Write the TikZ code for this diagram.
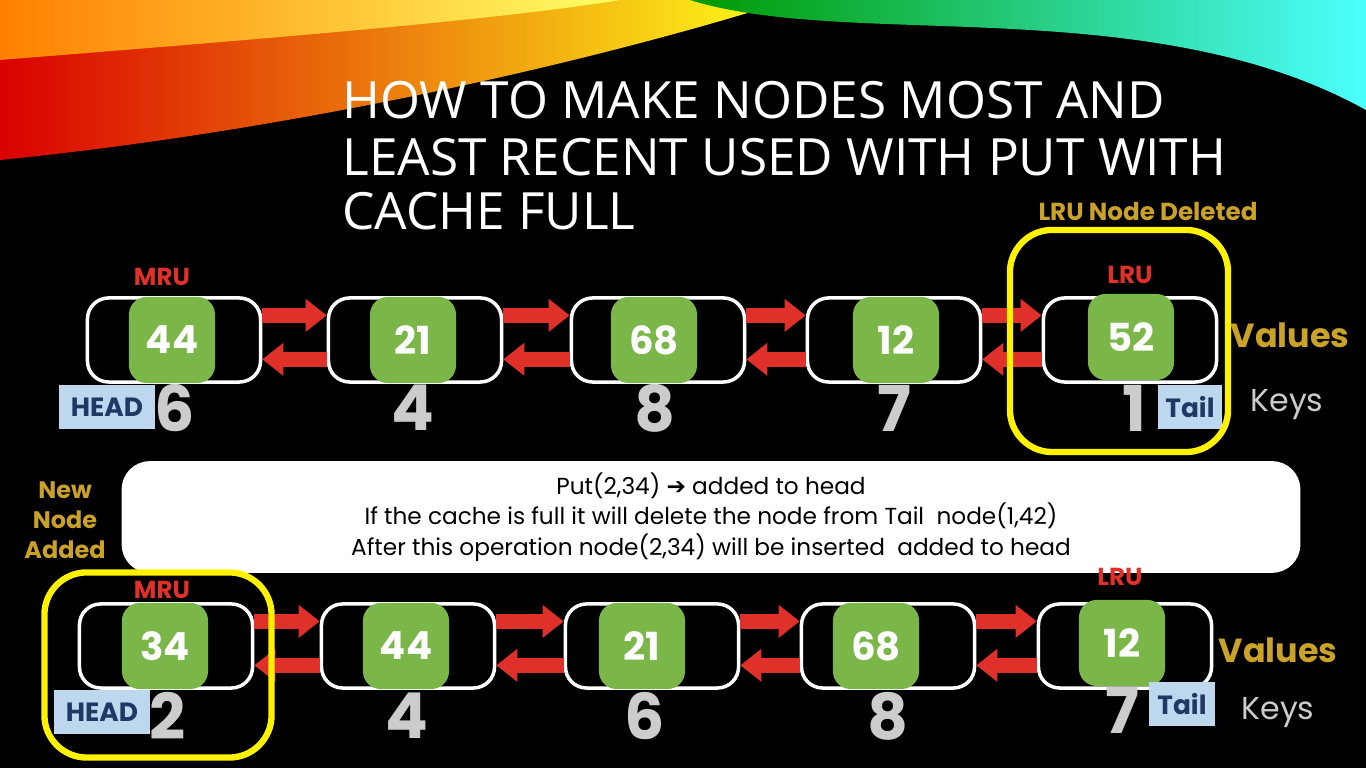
\documentclass[tikz,border=0pt]{standalone}
\usepackage{fontspec}
\setmainfont{Poppins}
\newfontfamily\titlefont{Open Sans}
\newfontfamily\dejavu{DejaVu Sans}
\usetikzlibrary{arrows.meta,shapes.misc}
\definecolor{gold}{HTML}{C9A227}
\definecolor{mred}{HTML}{E0302A}
\definecolor{gbox}{HTML}{7AB648}
\definecolor{lblue}{HTML}{BDD7EE}
\definecolor{navy}{HTML}{1F3864}
\tikzset{
  cell/.style={draw=white,line width=1pt,rounded corners=6pt,minimum width=1.73cm,minimum height=0.84cm},
  val/.style={fill=gbox,rounded corners=5pt,minimum width=0.86cm,minimum height=0.86cm,text=white,font=\bfseries\fontsize{11}{13}\selectfont},
  keyd/.style={text=white!80!black,font=\bfseries\fontsize{18}{20}\selectfont},
  tag/.style={fill=lblue,text=navy,font=\bfseries\fontsize{7.5}{9}\selectfont,minimum height=0.44cm,inner sep=2pt},
  lab/.style={font=\bfseries\fontsize{7}{8}\selectfont},
  fw/.style={mred,line width=4.3pt,-{Triangle[width=9pt,length=6pt]}},
  sel/.style={draw=yellow,line width=1.8pt,rounded corners=12pt},
}
\begin{document}
\begin{tikzpicture}[x=0.01cm,y=-0.01cm]
\fill[black] (0,0) rectangle (1366,768);
\useasboundingbox (0,0) rectangle (1366,768);
% swooshes
\shade[left color=red!85!black,right color=yellow!90!white] (0,160) .. controls (300,130) and (600,60) .. (790,0) -- (0,0) -- cycle;
\shade[left color=orange,right color=yellow!60!white] (0,60) .. controls (250,40) and (500,20) .. (620,0) -- (0,0) -- cycle;
\shade[left color=green!60!black,right color=cyan!70!white] (690,0) .. controls (850,50) and (1150,-10) .. (1366,110) -- (1366,0) -- cycle;
% title
\node[anchor=west,text=white,font=\titlefont\fontsize{14.6}{15}\selectfont,align=left] (t1) at (330,100) {HOW TO MAKE NODES MOST AND};
\node[anchor=west,text=white,font=\titlefont\fontsize{14.6}{15}\selectfont] (t2) at (330,157) {LEAST RECENT USED WITH PUT WITH};
\node[anchor=west,text=white,font=\titlefont\fontsize{14.6}{15}\selectfont] (t3) at (330,211) {CACHE FULL};
% row 1
\node[cell] (a1) at (174,340) {};
\node[cell] (a2) at (415,340) {};
\node[cell] (a3) at (658,340) {};
\node[cell] (a4) at (894,340) {};
\node[cell] (a5) at (1130,340) {};
\node[val] (v1) at (172,340) {44};
\node[val] (v2) at (413,340) {21};
\node[val] (v3) at (654,340) {68};
\node[val] (v4) at (896,340) {12};
\node[val] (v5) at (1131,337) {52};
\foreach \i/\j in {1/2,2/3,3/4,4/5}{
  \draw[fw] ([yshift=7pt]a\i.east) -- ([yshift=7pt]a\j.west);
  \draw[fw] ([yshift=-5.5pt]a\j.west) -- ([yshift=-5.5pt]a\i.east);
}
\node[keyd] (k1) at (175,408) {6};
\node[keyd] (k2) at (413,408) {4};
\node[keyd] (k3) at (655,408) {8};
\node[keyd] (k4) at (894,408) {7};
\node[keyd] (k5) at (1134,408) {1};
\node[tag,minimum width=0.95cm] (h1) at (107,407) {HEAD};
\node[tag,minimum width=0.62cm] (tl1) at (1190,407) {Tail};
\node[lab,text=mred] (m1) at (162,277) {MRU};
\node[lab,text=mred] (l1) at (1130,275) {LRU};
\node[sel,minimum width=2.18cm,minimum height=2.22cm] (s1) at (1119,341) {};
\node[lab,text=gold] (d1) at (1148,212) {LRU Node Deleted};
\node[text=gold,font=\bfseries\fontsize{9.5}{11}\selectfont] (vl1) at (1290,335) {Values};
\node[text=white!80!black,font=\fontsize{9}{11}\selectfont] (kl1) at (1287,405) {Keys};
% message
\node[fill=white,rounded corners=8pt,minimum width=11.78cm,minimum height=0.93cm,align=center,font=\fontsize{6.6}{8.6}\selectfont] (msg) at (711,517)
 {Put(2,34) {\dejavu ➔} added to head\\If the cache is full it will delete the node from Tail\ \ node(1,42)\\After this operation node(2,34) will be inserted\ \ added to head};
\node[lab,text=gold,align=center,font=\bfseries\fontsize{6.8}{8.6}\selectfont] (nn) at (65,520) {New\\Node\\Added};
% row 2
\node[cell] (b1) at (166,646) {};
\node[cell] (b2) at (408,646) {};
\node[cell] (b3) at (652,646) {};
\node[cell] (b4) at (888,646) {};
\node[cell] (b5) at (1125,646) {};
\node[val] (w1) at (165,646) {34};
\node[val] (w2) at (406,646) {44};
\node[val] (w3) at (642,646) {21};
\node[val] (w4) at (876,646) {68};
\node[val] (w5) at (1122,643) {12};
\foreach \i/\j in {1/2,2/3,3/4,4/5}{
  \draw[fw] ([yshift=7pt]b\i.east) -- ([yshift=7pt]b\j.west);
  \draw[fw] ([yshift=-5.5pt]b\j.west) -- ([yshift=-5.5pt]b\i.east);
}
\node[keyd] (q1) at (168,716) {2};
\node[keyd] (q2) at (407,716) {4};
\node[keyd] (q3) at (645,716) {6};
\node[keyd] (q4) at (888,716) {8};
\node[keyd] (q5) at (1122,710) {7};
\node[tag,minimum width=0.95cm] (h2) at (102,712) {HEAD};
\node[tag,minimum width=0.65cm] (tl2) at (1182,704) {Tail};
\node[lab,text=mred] (m2) at (162,590) {MRU};
\node[lab,text=mred] (l2) at (1120,577) {LRU};
\node[sel,minimum width=2.27cm,minimum height=1.85cm] (s2) at (158,665) {};
\node[text=gold,font=\bfseries\fontsize{9.5}{11}\selectfont] (vl2) at (1278,650) {Values};
\node[text=white!80!black,font=\fontsize{9}{11}\selectfont] (kl2) at (1278,713) {Keys};
\end{tikzpicture}
\end{document}
